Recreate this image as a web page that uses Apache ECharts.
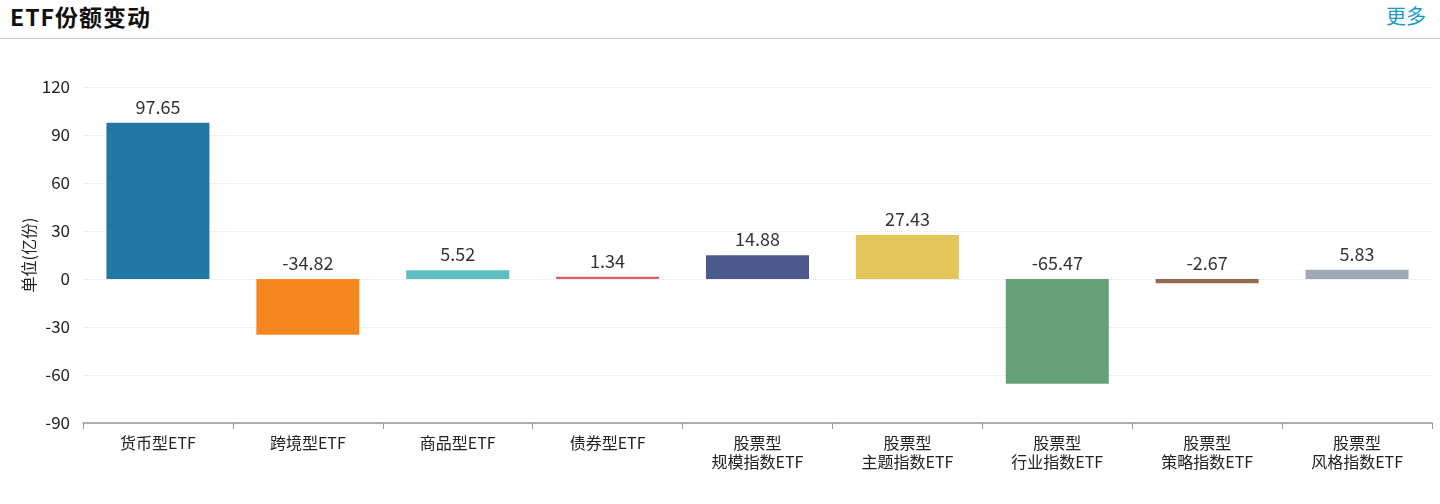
<!DOCTYPE html>
<html>
<head>
<meta charset="utf-8">
<script src="https://cdn.jsdelivr.net/npm/echarts@6/dist/echarts.min.js"></script>
<style>
    html, body { margin: 0; padding: 0; background: #fff; width: 1440px; height: 504px; overflow: hidden; }
    #head { position: relative; height: 38px; border-bottom: 1px solid #ccc; font-family: "Noto Sans CJK SC", sans-serif; }
    #head .t { position: absolute; left: 10px; top: -1px; font-size: 23px; font-weight: bold; color: #111; letter-spacing: 1px; }
    #head .more { position: absolute; right: 14px; top: 1px; font-size: 20px; color: #1a9bc5; }
    #chart { width: 1440px; height: 465px; }
</style>
</head>
<body>
<div id="head"><span class="t">ETF份额变动</span><span class="more">更多</span></div>
<div id="chart"></div>
<script>
    var categories = ['货币型ETF', '跨境型ETF', '商品型ETF', '债券型ETF', '股票型\n规模指数ETF',
        '股票型\n主题指数ETF', '股票型\n行业指数ETF', '股票型\n策略指数ETF', '股票型\n风格指数ETF'];
    var values = [97.65, -34.82, 5.52, 1.34, 14.88, 27.43, -65.47, -2.67, 5.83];
    var colors = ['#2377a4', '#f5871f', '#5ebfc1', '#e35a5f', '#4b598c', '#e3c55a', '#64a174', '#936a4d', '#9eaab6'];

    var chart = echarts.init(document.getElementById('chart'));

    function barData() {
        var arr = [];
        for (var i = 0; i < values.length; i++) {
            arr.push({value: values[i], itemStyle: {color: colors[i]}});
        }
        return arr;
    }

    var option = {
        animation: false,
        textStyle: {fontFamily: '"Noto Sans CJK SC", sans-serif'},
        grid: {left: 83, right: 8, top: 48, bottom: 81},
        xAxis: {
            type: 'category',
            data: categories,
            axisLine: {onZero: false, lineStyle: {color: '#999', width: 1.5}},
            axisTick: {show: true, length: 6, lineStyle: {color: '#999'}},
            axisLabel: {color: '#222', fontSize: 16, interval: 0, lineHeight: 19, margin: 10}
        },
        yAxis: {
            type: 'value',
            min: -90,
            max: 120,
            interval: 30,
            name: '单位(亿份)',
            nameLocation: 'middle',
            nameGap: 46,
            nameMoveOverlap: false,
            nameTextStyle: {color: '#222', fontSize: 16},
            axisLine: {show: false},
            axisTick: {show: false},
            axisLabel: {color: '#222', fontSize: 17, margin: 13},
            splitLine: {lineStyle: {color: '#dfe3ee', type: 'dotted'}}
        },
        series: [{
            type: 'bar',
            barWidth: 103,
            data: barData(),
            label: {
                show: true,
                position: 'top',
                color: '#333',
                fontSize: 18,
                distance: 7
            }
        }]
    };

    chart.setOption(option);
</script>
</body>
</html>
